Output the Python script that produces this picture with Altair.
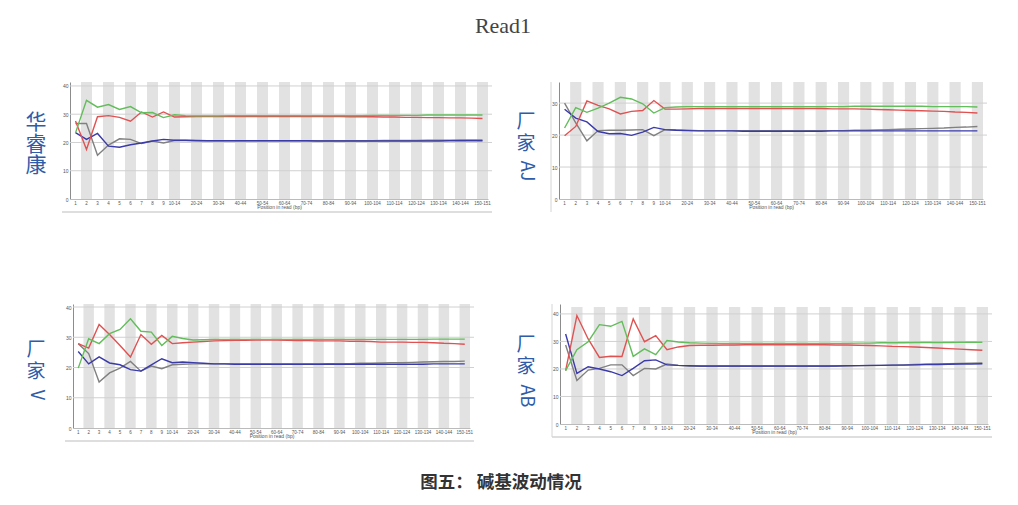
import altair as alt
import pandas as pd

# ---------------- data ----------------
cats = ["1", "2", "3", "4", "5", "6", "7", "8", "9", "10-14", "15-19", "20-24",
        "25-29", "30-34", "35-39", "40-44", "45-49", "50-54", "55-59", "60-64",
        "65-69", "70-74", "75-79", "80-84", "85-89", "90-94", "95-99", "100-104",
        "105-109", "110-114", "115-119", "120-124", "125-129", "130-134",
        "135-139", "140-144", "145-149", "150-151"]
labeled = cats[:10] + cats[11::2]
shaded = cats[1::2]
y_ticks = [0, 10, 20, 30, 40]

series_names = ["G", "C", "T", "A"]
series_colors = ["#808080", "#3a3aaa", "#e05252", "#62bd5a"]

# panel 1: 华睿康
green1 = [23.4, 34.9, 32.5, 33.4, 31.7, 32.7, 30.5, 30.6, 28.8, 29.8,
          29.5, 29.4, 29.4, 29.4, 29.5, 29.5, 29.5, 29.5, 29.5, 29.5,
          29.5, 29.5, 29.5, 29.5, 29.5, 29.5, 29.5, 29.6, 29.6, 29.6,
          29.6, 29.6, 29.7, 29.7, 29.7, 29.7, 29.7, 29.7]
red1 = [27.6, 17.5, 29.1, 29.5, 28.9, 27.5, 30.8, 29.0, 30.8, 29.0,
        29.1, 29.2, 29.2, 29.2, 29.2, 29.2, 29.2, 29.2, 29.2, 29.2,
        29.2, 29.2, 29.2, 29.2, 29.2, 29.1, 29.1, 29.1, 29.0, 29.0,
        28.9, 28.9, 28.8, 28.8, 28.7, 28.7, 28.6, 28.5]
gray1 = [26.7, 26.7, 15.5, 19.1, 21.3, 21.1, 19.6, 20.5, 19.8, 20.7,
         20.7, 20.6, 20.6, 20.6, 20.6, 20.6, 20.6, 20.6, 20.6, 20.6,
         20.6, 20.6, 20.6, 20.6, 20.6, 20.6, 20.6, 20.6, 20.7, 20.7,
         20.7, 20.7, 20.8, 20.8, 20.8, 20.9, 20.9, 20.9]
blue1 = [23.5, 21.1, 23.2, 18.7, 18.3, 19.2, 19.8, 20.5, 21.1, 20.8,
         20.8, 20.7, 20.6, 20.6, 20.6, 20.6, 20.6, 20.6, 20.6, 20.6,
         20.6, 20.6, 20.5, 20.5, 20.5, 20.5, 20.5, 20.5, 20.5, 20.5,
         20.5, 20.5, 20.5, 20.5, 20.6, 20.6, 20.6, 20.6]

# panel 2: 厂家 AJ
green2 = [22.2, 28.6, 27.1, 28.4, 30.0, 31.8, 31.3, 29.8, 26.9, 28.6,
          28.8, 28.9, 28.9, 28.9, 28.9, 28.9, 28.9, 28.9, 28.9, 28.9,
          28.9, 28.9, 28.9, 28.9, 28.9, 28.9, 29.0, 29.0, 29.0, 29.0,
          29.0, 29.0, 29.0, 28.9, 28.9, 28.9, 28.9, 28.8]
red2 = [19.8, 22.7, 30.7, 29.3, 28.2, 26.6, 27.4, 27.7, 30.8, 28.1,
        28.1, 28.2, 28.3, 28.3, 28.3, 28.3, 28.3, 28.3, 28.3, 28.3,
        28.3, 28.3, 28.3, 28.3, 28.2, 28.2, 28.2, 28.1, 28.0, 27.9,
        27.8, 27.7, 27.6, 27.5, 27.4, 27.2, 27.1, 26.9]
gray2 = [30.0, 23.8, 18.2, 21.4, 21.5, 21.5, 21.6, 21.7, 19.8, 21.7,
         21.6, 21.5, 21.4, 21.4, 21.4, 21.4, 21.4, 21.4, 21.4, 21.4,
         21.4, 21.4, 21.4, 21.4, 21.4, 21.4, 21.5, 21.5, 21.6, 21.7,
         21.8, 21.9, 22.0, 22.1, 22.2, 22.4, 22.5, 22.7]
blue2 = [28.1, 25.3, 24.1, 21.1, 20.4, 20.5, 19.9, 20.9, 22.4, 21.7,
         21.5, 21.4, 21.3, 21.3, 21.3, 21.3, 21.2, 21.2, 21.2, 21.2,
         21.2, 21.2, 21.2, 21.2, 21.3, 21.3, 21.3, 21.3, 21.3, 21.3,
         21.3, 21.3, 21.3, 21.3, 21.3, 21.3, 21.3, 21.3]

# panel 3: 厂家 V
green3 = [19.8, 29.5, 27.9, 31.2, 32.6, 36.1, 32.0, 31.7, 27.3, 30.3,
          29.6, 29.1, 29.2, 29.3, 29.3, 29.3, 29.3, 29.3, 29.3, 29.3,
          29.3, 29.3, 29.3, 29.3, 29.3, 29.3, 29.3, 29.3, 29.3, 29.3,
          29.3, 29.3, 29.3, 29.3, 29.4, 29.4, 29.4, 29.4]
red3 = [27.9, 26.4, 34.2, 30.9, 27.3, 23.5, 30.9, 27.7, 30.6, 27.9,
        28.2, 28.4, 28.6, 28.8, 28.9, 29.0, 29.0, 29.1, 29.1, 29.1,
        29.0, 28.9, 28.9, 28.8, 28.8, 28.8, 28.7, 28.7, 28.6, 28.4,
        28.4, 28.4, 28.3, 28.3, 28.2, 28.0, 27.9, 27.7]
gray3 = [27.9, 24.6, 15.2, 18.2, 19.8, 22.0, 18.8, 20.5, 19.6, 20.9,
         21.1, 21.2, 21.2, 21.2, 21.2, 21.2, 21.2, 21.2, 21.2, 21.2,
         21.2, 21.2, 21.2, 21.2, 21.3, 21.3, 21.3, 21.4, 21.4, 21.5,
         21.6, 21.6, 21.7, 21.8, 21.9, 22.0, 22.0, 22.1]
blue3 = [25.3, 21.2, 23.5, 21.5, 20.9, 19.3, 18.8, 20.9, 22.9, 21.6,
         21.8, 21.6, 21.4, 21.2, 21.2, 21.1, 21.1, 21.1, 21.1, 21.1,
         21.1, 21.1, 21.1, 21.1, 21.1, 21.1, 21.1, 21.1, 21.1, 21.1,
         21.1, 21.1, 21.1, 21.1, 21.2, 21.2, 21.2, 21.2]

# panel 4: 厂家 AB
green4 = [19.4, 27.0, 29.9, 36.1, 35.5, 37.3, 24.6, 27.3, 25.2, 30.3,
          29.8, 29.5, 29.4, 29.3, 29.3, 29.3, 29.3, 29.3, 29.3, 29.3,
          29.3, 29.3, 29.3, 29.3, 29.3, 29.3, 29.4, 29.4, 29.5, 29.5,
          29.5, 29.6, 29.6, 29.6, 29.6, 29.7, 29.7, 29.7]
red4 = [19.4, 39.4, 30.9, 24.2, 24.6, 24.5, 38.2, 29.9, 32.1, 27.0,
        28.0, 28.5, 28.6, 28.6, 28.7, 28.7, 28.8, 28.8, 28.8, 28.8,
        28.8, 28.8, 28.8, 28.8, 28.7, 28.7, 28.6, 28.5, 28.4, 28.2,
        28.1, 28.0, 27.8, 27.6, 27.4, 27.2, 27.0, 26.8]
gray4 = [28.7, 15.8, 19.6, 20.2, 21.5, 21.5, 17.6, 20.2, 20.0, 21.8,
         21.3, 21.0, 21.0, 21.0, 21.0, 21.0, 21.0, 21.0, 21.0, 21.0,
         21.0, 21.0, 21.0, 21.0, 21.1, 21.1, 21.2, 21.2, 21.3, 21.4,
         21.5, 21.6, 21.7, 21.8, 21.9, 22.0, 22.1, 22.2]
blue4 = [32.7, 18.4, 20.8, 20.0, 19.0, 17.6, 20.2, 23.0, 23.3, 21.5,
         21.3, 21.2, 21.1, 21.1, 21.1, 21.1, 21.1, 21.1, 21.1, 21.1,
         21.1, 21.1, 21.1, 21.1, 21.1, 21.2, 21.2, 21.3, 21.3, 21.4,
         21.4, 21.5, 21.6, 21.6, 21.7, 21.8, 21.8, 21.9]

label_upright = ["华\n睿\n康", "厂\n家", "厂\n家", "厂\n家"]
label_rotated = ["", "AJ", "V", "AB"]
title_text = "Read1"
caption_text = "图五：  碱基波动情况"
x_title = "Position in read (bp)"

panel_series = [
    [gray1, blue1, red1, green1],
    [gray2, blue2, red2, green2],
    [gray3, blue3, red3, green3],
    [gray4, blue4, red4, green4],
]

LABEL_BLUE = "#2f5ca8"
AXIS_GRAY = "#8c8c8c"
TICK_FONT = "Liberation Sans"


def make_df(k):
    rows = []
    for s, vals in zip(series_names, panel_series[k]):
        for i, (c, v) in enumerate(zip(cats, vals)):
            rows.append({"pos": c, "i": i, "series": s, "value": v})
    return pd.DataFrame(rows)


def panel(k, w, h, ymax, band_top=0, left_rule=False, bottom_rule=True):
    ticks = [t for t in y_ticks if t <= ymax]
    x = alt.X("pos:N", sort=cats,
              scale=alt.Scale(domain=cats, paddingInner=0, paddingOuter=0),
              axis=alt.Axis(values=labeled, labelAngle=0, labelFontSize=4.5,
                            labelColor="#555", labelFont=TICK_FONT, labelPadding=1,
                            ticks=False, domainColor="#bbbbbb", title=x_title,
                            titleFontSize=5, titleFontWeight="normal",
                            titleColor="#555", titleFont=TICK_FONT, titlePadding=0,
                            labelOverlap=False))
    y = alt.Y("value:Q", scale=alt.Scale(domain=[0, ymax], nice=False, zero=True),
              axis=alt.Axis(values=ticks, grid=False, labelFontSize=5,
                            labelColor="#555", labelFont=TICK_FONT, labelPadding=2,
                            ticks=False, domainColor=AXIS_GRAY, title=None))
    bands = alt.Chart(pd.DataFrame({"pos": shaded})).mark_rect(
        color="#e2e2e2").encode(x=x, y=alt.value(band_top), y2=alt.value(h))
    grid = alt.Chart(pd.DataFrame({"value": ticks[1:]})).mark_rule(
        color="#d0d0d0", strokeWidth=1).encode(
        y=y, x=alt.value(0), x2=alt.value(w + 4))
    lines = alt.Chart(make_df(k)).mark_line(strokeWidth=1.4).encode(
        x=x, y=y,
        color=alt.Color("series:N", scale=alt.Scale(domain=series_names,
                                                    range=series_colors),
                        legend=None),
        order=alt.Order("i:Q"))
    layers = [bands, grid, lines]
    if bottom_rule:
        layers.append(alt.Chart(pd.DataFrame({"a": [0]})).mark_rule(
            color="#bdbdbd", strokeWidth=1).encode(
            x=alt.value(-8), x2=alt.value(w + 4), y=alt.value(h + 13)))
    if left_rule:
        layers.append(alt.Chart(pd.DataFrame({"a": [0]})).mark_rule(
            color="#d4d4d4", strokeWidth=1).encode(
            x=alt.value(-8), y=alt.value(0), y2=alt.value(h + 13)))
    return alt.layer(*layers).properties(width=w, height=h)


def label_chart(k, w, h, cx, top, rot_cy, size, rot_size):
    up = alt.Chart(pd.DataFrame({"t": [label_upright[k]]})).mark_text(
        font="Noto Sans CJK SC", fontSize=size, color=LABEL_BLUE, lineBreak="\n",
        lineHeight=21.5, baseline="top", align="center").encode(
        text="t:N", x=alt.value(cx), y=alt.value(top))
    layers = [up]
    if label_rotated[k]:
        layers.append(alt.Chart(pd.DataFrame({"t": [label_rotated[k]]})).mark_text(
            font="Noto Sans CJK SC", fontSize=rot_size, color=LABEL_BLUE, angle=90,
            baseline="middle", align="center").encode(
            text="t:N", x=alt.value(cx), y=alt.value(rot_cy)))
    return alt.layer(*layers).properties(width=w, height=h)


title_chart = alt.Chart(pd.DataFrame({"t": [title_text]})).mark_text(
    font="Liberation Serif", fontSize=22, color="#444444", baseline="middle",
    align="center").encode(text="t:N", x=alt.value(495), y=alt.value(18)).properties(
    width=1000, height=73)

caption_chart = alt.Chart(pd.DataFrame({"t": [caption_text]})).mark_text(
    font="Noto Sans CJK SC", fontSize=17.5, fontWeight="bold", color="#333333",
    baseline="middle", align="center").encode(
    text="t:N", x=alt.value(493), y=alt.value(19)).properties(width=1000, height=28)

p1 = panel(0, 418, 117, 41.4)
p2 = panel(1, 424, 117, 36.6, left_rule=True, bottom_rule=False)
p3 = panel(2, 397, 124, 41.0)
p4 = panel(3, 428, 120, 43.6, band_top=3, left_rule=True)

l1 = label_chart(0, 53, 221, 28, 30, 0, 21, 19)
l2 = label_chart(1, 57, 221, 33, 31, 89, 19, 18)
l3 = label_chart(2, 56, 160, 28, 37, 91, 19, 18)
l4 = label_chart(3, 76, 160, 51, 32, 92, 19, 18)

row1 = alt.hconcat(l1, p1, l2, p2, spacing=0)
row2 = alt.hconcat(l3, p3, l4, p4, spacing=0)

chart = alt.vconcat(title_chart, row1, row2, caption_chart, spacing=0).properties(
    padding=0, background="white").configure_view(stroke="transparent", strokeWidth=0)

chart.save("out.html", embed_options={"renderer": "svg", "actions": False})
